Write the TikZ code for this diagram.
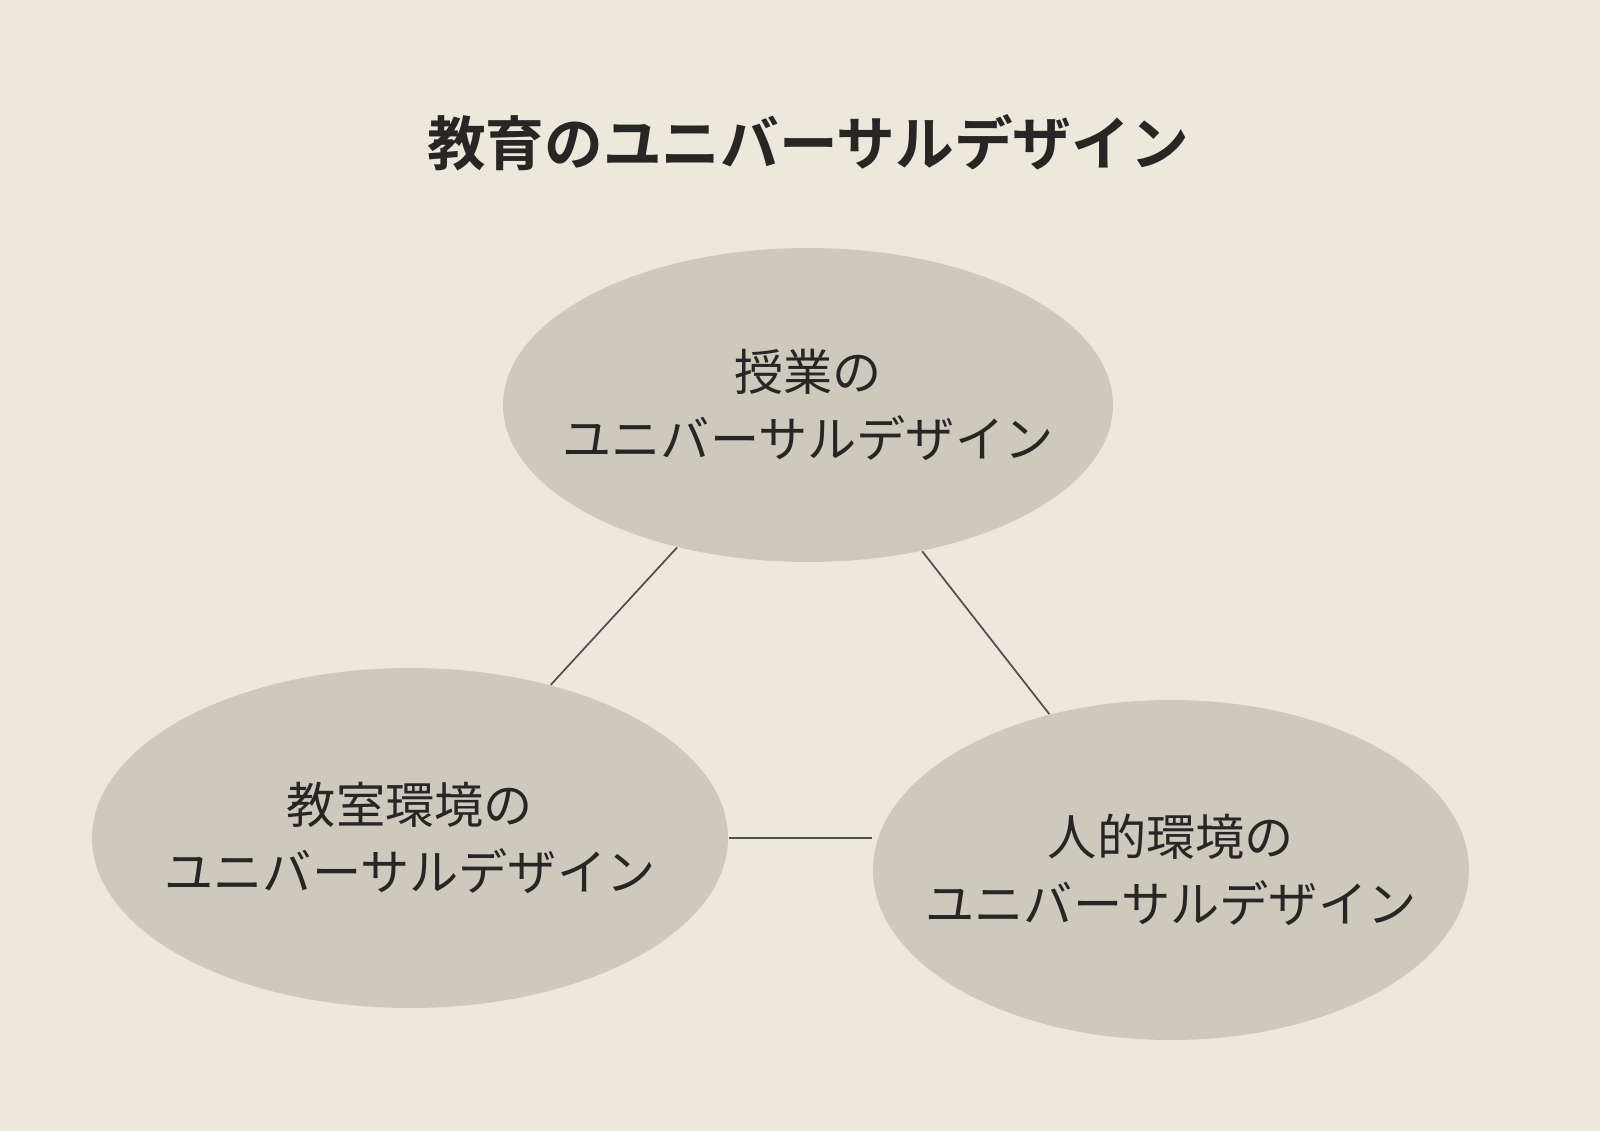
\documentclass[tikz,border=0pt]{standalone}
\usepackage{fontspec}
\setmainfont{Noto Sans CJK JP}
\newfontfamily\jpbold{Noto Sans CJK JP Bold}
\usetikzlibrary{shapes.geometric}
\definecolor{bgc}{RGB}{236,232,220}
\definecolor{elc}{RGB}{206,201,189}
\definecolor{txc}{RGB}{40,38,36}
\tikzset{
  blob/.style={ellipse,fill=elc,inner sep=0pt},
  blobtext/.style={align=center,text=txc,font=\fontsize{14pt}{19pt}\selectfont},
  link/.style={draw=txc!80,line width=0.5pt}
}
\begin{document}
\begin{tikzpicture}[x=0.1mm,y=-0.1mm]
\fill[bgc] (0,0) rectangle (1600,1131);
\useasboundingbox (0,0) rectangle (1600,1131);
\node[font=\jpbold\fontsize{16.7pt}{18pt}\selectfont,text=txc] (title) at (808,143) {教育のユニバーサルデザイン};
\node[blob,minimum width=61mm,minimum height=31.4mm] (top) at (808,405) {};
\node[blob,minimum width=63.6mm,minimum height=34mm] (left) at (410,838) {};
\node[blob,minimum width=59.6mm,minimum height=34mm] (right) at (1171,870) {};
\node[blobtext] (toptext) at (top) {授業の\\ユニバーサルデザイン};
\node[blobtext] (lefttext) at (left) {教室環境の\\ユニバーサルデザイン};
\node[blobtext] (righttext) at (right) {人的環境の\\ユニバーサルデザイン};
\draw[link] (top) -- (left);
\draw[link] (top) -- (right);
\draw[link] (left.east) -- (right.west|-left.east);
\end{tikzpicture}
\end{document}
